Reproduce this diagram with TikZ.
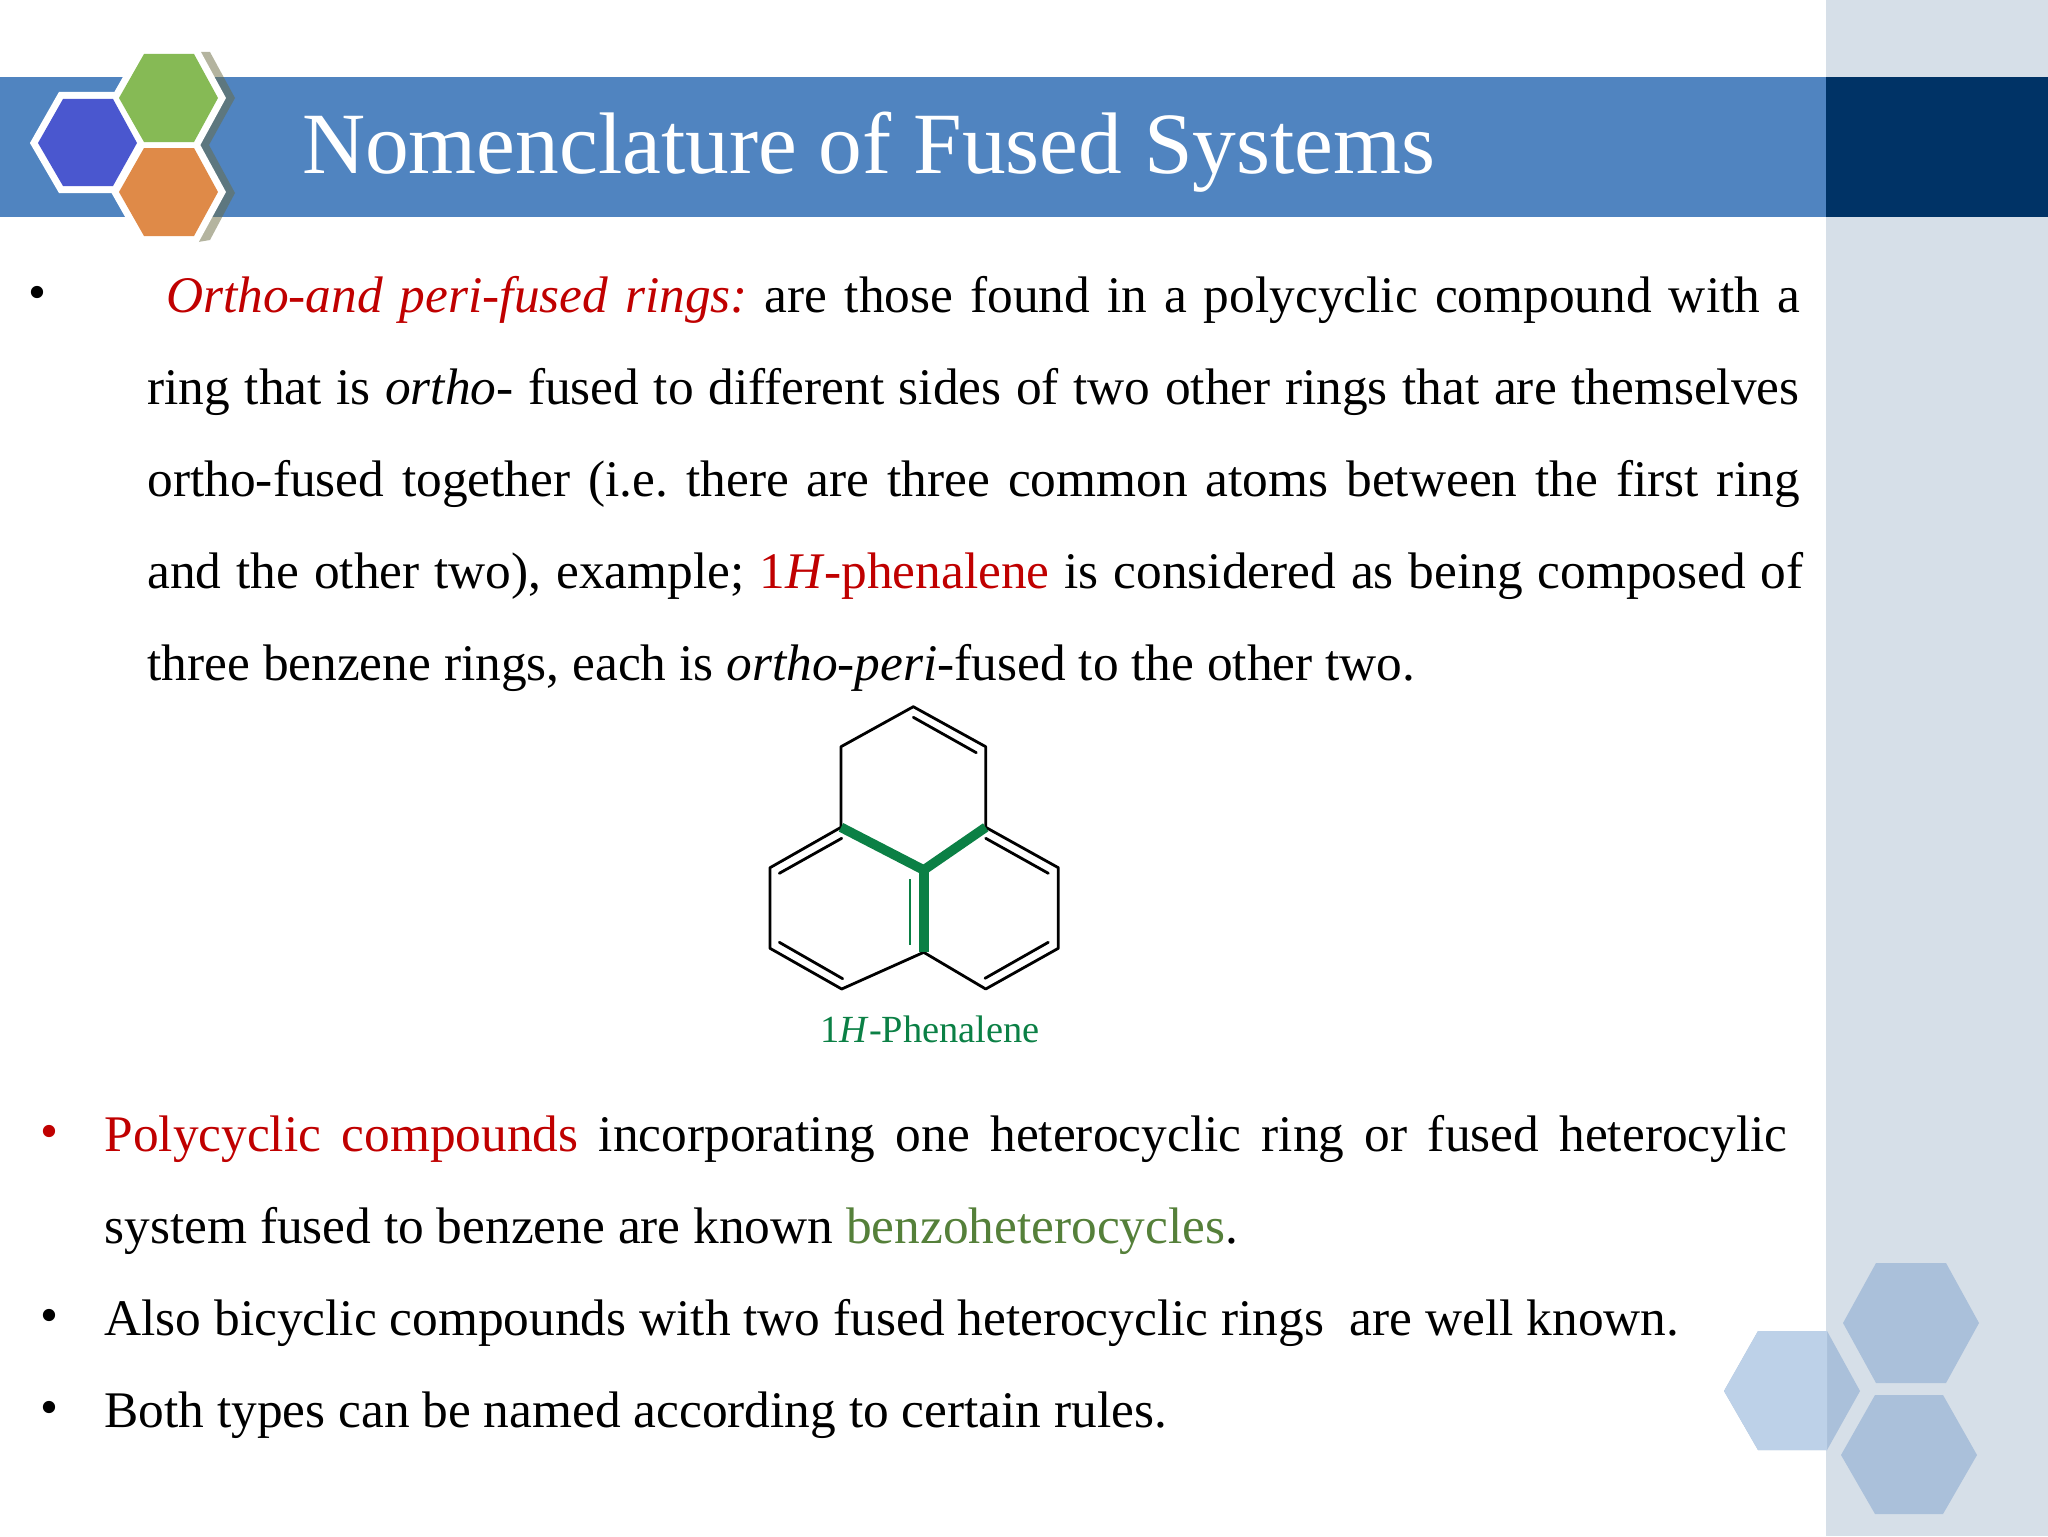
\documentclass[tikz,border=0pt]{standalone}
\usepackage{fontspec}
\setmainfont{Liberation Serif}
\frenchspacing
\definecolor{banner}{HTML}{5084C0}
\definecolor{navy}{HTML}{003366}
\definecolor{panel}{HTML}{D6DFE8}
\definecolor{hgreen}{HTML}{86BA55}
\definecolor{hblue}{HTML}{4A57CF}
\definecolor{horange}{HTML}{DF8A48}
\definecolor{hshadow}{HTML}{6B6B40}
\definecolor{pale}{HTML}{BDD1E8}
\definecolor{palemid}{HTML}{AAC0DA}
\definecolor{redtxt}{HTML}{C00000}
\definecolor{molgreen}{HTML}{0B8045}
\definecolor{benzo}{HTML}{55803A}
\newcommand{\jl}[2]{\hbox to #1{#2}}
\tikzset{
  x=.5pt,y=-.5pt,
  txt/.style={anchor=base west,inner sep=0pt,outer sep=0pt,font=\fontsize{25.68}{30}\selectfont},
  bul/.style={anchor=base,inner sep=0pt,outer sep=0pt,font=\fontsize{25.68}{30}\selectfont},
  hexw/.style={draw=white,fill=white,line width=7pt,line join=miter},
  shad/.style={fill=hshadow,fill opacity=.5},
  bond/.style={line width=1.4pt,line cap=round,line join=round},
  gbond/.style={draw=molgreen,line width=#1},
}
\begin{document}
\begin{tikzpicture}
\useasboundingbox (0,0) rectangle (2048,1536);
\fill[white] (0,0) rectangle (2048,1536);
\fill[panel] (1826,0) rectangle (2048,1536);
\fill[banner] (0,77) rectangle (1826,217);
\fill[navy] (1826,77) rectangle (2048,217);
% bottom hexagons
\fill[palemid] (1843,1323)--(1876,1263)--(1946,1263)--(1979,1323)--(1946,1383)--(1876,1383)--cycle;
\fill[palemid] (1841,1455)--(1875,1395)--(1943,1395)--(1977,1455)--(1943,1514)--(1875,1514)--cycle;
\fill[palemid] (1724,1391)--(1758,1331)--(1827,1331)--(1860,1391)--(1827,1450)--(1758,1450)--cycle;
\fill[pale] (1724,1391)--(1758,1331)--(1827,1331)--(1827,1450)--(1758,1450)--cycle;
% logo shadows
\fill[shad] (201,52)--(210,52)--(235,98)--(209,145)--(235,193)--(210,240)--(198,242)--cycle;
% logo hexagons
\draw[hexw] (119,98)--(144,54)--(194,54)--(218,98)--(194,142)--(144,142)--cycle;
\draw[hexw] (38,143)--(63,99)--(113,99)--(137,143)--(113,186)--(63,186)--cycle;
\draw[hexw] (119,192)--(144,148)--(194,148)--(218,192)--(194,236)--(144,236)--cycle;
\fill[hgreen] (119,98)--(144,54)--(194,54)--(218,98)--(194,142)--(144,142)--cycle;
\fill[hblue] (38,143)--(63,99)--(113,99)--(137,143)--(113,186)--(63,186)--cycle;
\fill[horange] (119,192)--(144,148)--(194,148)--(218,192)--(194,236)--(144,236)--cycle;
% title
\node[txt,text=white,font=\fontsize{43.7}{48}\selectfont] (title) at (302,173) {Nomenclature of Fused Systems};
% first paragraph
\node[bul] (b1) at (37,309) {•};
\node[txt] (l1) at (166,312) {\jl{817pt}{\textcolor{redtxt}{\textit{Ortho-and peri-fused rings:}} are those found in a polycyclic compound with a}};
\node[txt] (l2) at (147.5,404) {\jl{826pt}{ring that is \textit{ortho}- fused to different sides of two other rings that are themselves}};
\node[txt] (l3) at (147.5,496) {\jl{826pt}{ortho-fused together (i.e. there are three common atoms between the first ring}};
\node[txt] (l4) at (147.5,588) {\jl{828pt}{and the other two), example; \textcolor{redtxt}{1\textit{H}-phenalene} is considered as being composed of}};
\node[txt] (l5) at (147.5,680) {three benzene rings, each is \textit{ortho}-\textit{peri}-fused to the other two.};
% molecule
\coordinate (top) at (913.3,706.7);
\coordinate (ul) at (841,746.7);
\coordinate (ur) at (985.7,746.7);
\coordinate (ml) at (841,827.3);
\coordinate (mr) at (985.7,827.3);
\coordinate (cc) at (923.7,870);
\coordinate (llt) at (770,867.7);
\coordinate (llb) at (770,948.3);
\coordinate (lb) at (841.7,989);
\coordinate (cb) at (923.7,952.3);
\coordinate (rb) at (985.7,989);
\coordinate (rrt) at (1058.3,867.7);
\coordinate (rrb) at (1058.3,948.3);
\draw[bond] (ml)--(ul)--(top)--(ur)--(mr)--(rrt)--(rrb)--(rb)--(cb)--(lb)--(llb)--(llt)--(ml);
\coordinate (d1a) at (913.3,717.3); \coordinate (d1b) at (976.3,752.7);
\coordinate (d2a) at (779.3,873.3); \coordinate (d2b) at (841.7,838.3);
\coordinate (d3a) at (779.3,942.3); \coordinate (d3b) at (842.7,978.7);
\coordinate (d4a) at (985,978.3); \coordinate (d4b) at (1048.3,942.3);
\coordinate (d5a) at (985.7,838.3); \coordinate (d5b) at (1048.3,873.3);
\draw[bond] (d1a)--(d1b) (d2a)--(d2b) (d3a)--(d3b) (d4a)--(d4b) (d5a)--(d5b);
\draw[gbond=4.8pt,line join=miter] (ml)--(cc)--(mr);
\draw[gbond=5.2pt] (cc)--(cb);
\coordinate (g1) at (909.7,879.3); \coordinate (g2) at (909.7,945);
\draw[gbond=1pt] (g1)--(g2);
\node[anchor=base,inner sep=0pt,text=molgreen,font=\fontsize{19.2}{22}\selectfont] (lab) at (930,1042) {1\textit{H}-Phenalene};
% lower bullets
\node[bul,text=redtxt] (b2) at (49,1148) {•};
\node[txt] (m1t) at (104.5,1151) {\jl{841.5pt}{\textcolor{redtxt}{Polycyclic compounds} incorporating one heterocyclic ring or fused heterocylic}};
\node[txt] (m2) at (104.5,1243) {system fused to benzene are known \textcolor{benzo}{benzoheterocycles}.};
\node[bul] (b3) at (49,1332) {•};
\node[txt] (m3) at (104.5,1335) {Also bicyclic compounds with two fused heterocyclic rings\ \ are well known.};
\node[bul] (b4) at (49,1424) {•};
\node[txt] (m4) at (104.5,1427) {Both types can be named according to certain rules.};
\end{tikzpicture}
\end{document}
